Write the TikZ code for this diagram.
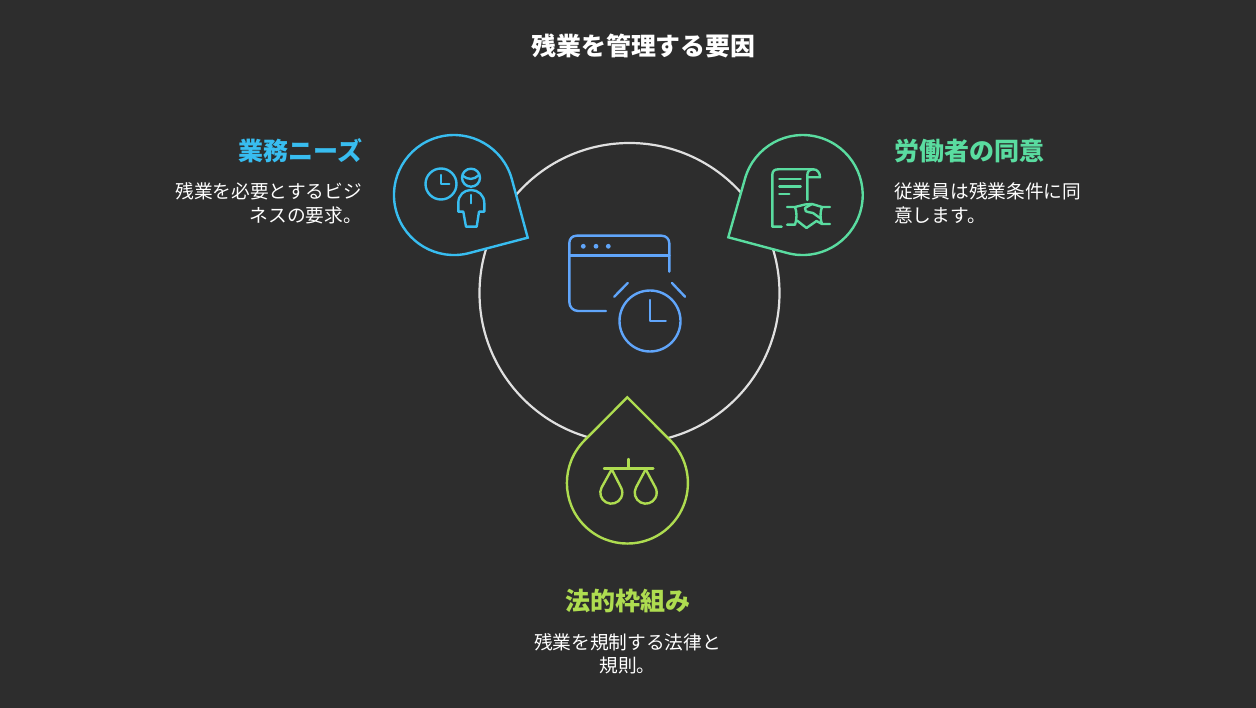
\documentclass[tikz,border=0pt]{standalone}
\usepackage{fontspec}
\setmainfont{Noto Sans CJK JP}
\definecolor{bgGray}{HTML}{2D2D2D}
\definecolor{ringGray}{HTML}{E0E0E0}
\definecolor{needBlue}{HTML}{38BDF0}
\definecolor{agreeGreen}{HTML}{5ADCA0}
\definecolor{lawGreen}{HTML}{AEDC50}
\definecolor{clockBlue}{HTML}{60A5FA}
\usetikzlibrary{positioning}
\tikzset{
    drop/.style={line width=2.4pt,fill=bgGray,line join=miter},
    icon/.style={line width=2.4pt,line cap=round,line join=round},
    titleText/.style={font=\fontsize{24.9}{28}\selectfont\bfseries,text=white},
    headText/.style={font=\fontsize{25}{28}\selectfont\bfseries},
    bodyText/.style={font=\fontsize{18.7}{23.5}\selectfont,text=white,inner sep=0pt}
}
\begin{document}
\begin{tikzpicture}[x=1pt,y=-1pt]
    \path[fill=bgGray] (0,0) rectangle (1256,708);
    \useasboundingbox (0,0) rectangle (1256,708);

    \node[titleText] (titleNode) at (643.5,46) {残業を管理する要因};

    \draw[ringGray,line width=2.2pt] (629.5,293) circle (150pt);

    % left drop
    \draw[drop,draw=needBlue] (527.7,237.7) -- (511.9,179.4) arc[start angle=15.1,end angle=284.7,radius=60pt] -- cycle;
    \draw[icon,needBlue] (441,184) circle (15.5pt);
    \draw[icon,needBlue] (441,175) -- (441,184) -- (449.3,184);
    \draw[icon,needBlue] (471,177.7) circle (9pt);
    \draw[icon,needBlue] (463,176) .. controls (468,180) and (474,180) .. (479,175);
    \draw[icon,needBlue] (458.3,211.7) -- (458.3,203) .. controls (458.3,195) and (464,190) .. (471,190) .. controls (478,190) and (484.3,195) .. (484.3,203) -- (484.3,211.7) -- (479,211.7) -- (476.7,226.7) -- (466,226.7) -- (463.3,211.7) -- cycle;
    \draw[icon,needBlue] (470.7,195) -- (470.7,203.3);

    % right drop
    \draw[drop,draw=agreeGreen] (728.3,237.3) -- (745,178.6) arc[start angle=164.1,end angle=-104.9,radius=60pt] -- cycle;
    \draw[icon,agreeGreen] (781.7,226.7) -- (772.3,226.7) -- (772.3,175) .. controls (772.3,171) and (774.5,169.3) .. (778.3,169.3) -- (813.3,169.3) .. controls (817.5,169.3) and (820,173) .. (820,177.3) -- (807.3,177.3);
    \draw[icon,agreeGreen] (807.3,200) -- (807.3,175) .. controls (807.3,171.5) and (809.5,169.3) .. (813.3,169.3);
    \draw[icon,agreeGreen] (779.3,179) -- (800.7,179);
    \draw[icon,agreeGreen] (779.3,186.7) -- (800.7,186.7);
    \draw[icon,agreeGreen] (779.3,194) -- (789.3,194);
    \draw[icon,agreeGreen] (787,207) -- (795,207) .. controls (797,212) and (797,219) .. (795,224.7) -- (787,224.7);
    \draw[icon,agreeGreen] (830,207) -- (822,207) .. controls (820,212) and (820,219) .. (822,224) -- (830,224);
    \draw[icon,agreeGreen] (795,207) -- (805,204.5) -- (812,204) -- (822,207);
    \draw[icon,agreeGreen] (797,220.5) -- (806.5,228) -- (816.5,221) -- (822,224);
    \draw[icon,agreeGreen] (812,204) -- (805,208) .. controls (805,211) and (806,212) .. (808,212) -- (813,213) -- (820,218);

    % center icon
    \draw[icon,clockBlue] (606,311) -- (578.3,311) .. controls (573,311) and (569.3,307) .. (569.3,301.7) -- (569.3,243.3) .. controls (569.3,239) and (572,235.7) .. (576.7,235.7) -- (661.7,235.7) .. controls (666,235.7) and (669.3,239) .. (669.3,243.3) -- (669.3,271.7);
    \draw[icon,clockBlue] (569.3,255.7) -- (669.3,255.7);
    \foreach \dotX in {583.3,596,608.3}
        \fill[clockBlue] (\dotX,246.3) circle (2.4pt);
    \draw[icon,clockBlue] (614.3,296.7) -- (627.7,283);
    \draw[icon,clockBlue] (672,283) -- (685,296.7);
    \draw[icon,clockBlue] (650,321) circle (30.5pt);
    \draw[icon,clockBlue] (650,300) -- (650,321) -- (665.7,321);

    % bottom drop
    \draw[drop,draw=lawGreen] (627.3,397.3) -- (584.7,440.2) arc[start angle=134.9,end angle=405.1,radius=60.5pt] -- cycle;
    \draw[icon,lawGreen] (604,468.3) -- (653.3,468.3);
    \draw[icon,lawGreen] (628.3,459) -- (628.3,468.3);
    \draw[icon,lawGreen] (611.7,469.3) -- (601.6,487.5) arc[start angle=152,end angle=388,radius=11pt] -- cycle;
    \draw[icon,lawGreen] (645.7,469.3) -- (636,487.5) arc[start angle=152,end angle=388,radius=11pt] -- cycle;

    % labels
    \node[headText,text=needBlue,anchor=east,inner sep=0pt] (needHead) at (362.5,151) {業務ニーズ};
    \node[bodyText,anchor=north east,align=right] (needBody) at (362,182.5) {残業を必要とするビジ\\ネスの要求。};

    \node[headText,text=agreeGreen,anchor=west,inner sep=0pt] (agreeHead) at (894,151) {労働者の同意};
    \node[bodyText,anchor=north west,align=left] (agreeBody) at (894,182.5) {従業員は残業条件に同\\意します。};

    \node[headText,text=lawGreen,inner sep=0pt] (lawHead) at (627.5,601) {法的枠組み};
    \node[bodyText,anchor=north,align=center] (lawBody) at (627.5,633) {残業を規制する法律と\\規則。};
\end{tikzpicture}
\end{document}
